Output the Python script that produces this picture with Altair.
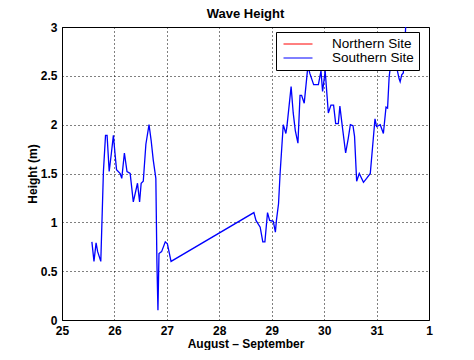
import altair as alt
import pandas as pd

days = [25.57, 25.61, 25.65, 25.68, 25.74, 25.79, 25.83, 25.86, 25.90, 25.94, 25.98,
        26.01, 26.04, 26.11, 26.14, 26.19, 26.24, 26.30, 26.36, 26.44, 26.48, 26.51,
        26.55, 26.60, 26.66, 26.70, 26.74, 26.79, 26.81, 26.83, 26.85, 26.90, 26.97,
        27.01, 27.08,
        28.66, 28.70, 28.78, 28.83, 28.87, 28.92, 28.96, 29.03, 29.07, 29.09, 29.13,
        29.16, 29.22, 29.27, 29.29, 29.37, 29.41, 29.45, 29.50, 29.54, 29.57, 29.62,
        29.69, 29.73, 29.80, 29.89, 29.94, 29.97, 30.02, 30.08, 30.13, 30.18, 30.22,
        30.27, 30.30, 30.34, 30.41, 30.46, 30.50, 30.55, 30.58, 30.62, 30.67, 30.75,
        30.81, 30.88, 30.97, 31.00, 31.07, 31.13, 31.18, 31.21, 31.24, 31.30, 31.37,
        31.43, 31.45, 31.48, 31.51, 31.56]
heights = [0.80, 0.60, 0.79, 0.70, 0.60, 1.52, 1.89, 1.89, 1.52, 1.70, 1.89,
           1.71, 1.54, 1.50, 1.45, 1.71, 1.52, 1.50, 1.21, 1.40, 1.21, 1.40,
           1.42, 1.80, 2.00, 1.84, 1.64, 1.45, 0.60, 0.10, 0.68, 0.70, 0.80,
           0.78, 0.60,
           1.10, 1.02, 0.95, 0.80, 0.80, 1.10, 1.02, 1.01, 0.90, 1.02, 1.19,
           1.50, 2.00, 1.91, 1.98, 2.39, 2.12, 1.94, 1.81, 2.30, 2.30, 2.22,
           2.60, 2.52, 2.41, 2.41, 2.55, 2.34, 2.55, 2.12, 2.20, 2.20, 2.01,
           2.01, 2.19, 2.01, 1.71, 1.86, 2.00, 1.99, 1.88, 1.42, 1.50, 1.41,
           1.45, 1.50, 2.06, 1.98, 2.00, 1.91, 2.18, 2.17, 2.49, 2.75, 2.62,
           2.47, 2.44, 2.51, 2.53, 3.05]
sites = ["Northern Site", "Southern Site"]
site_colors = ["#ff0000", "#0000ff"]
x_ticks = [25, 26, 27, 28, 29, 30, 31, 32]
y_ticks = [0, 0.5, 1, 1.5, 2, 2.5, 3]

df = pd.DataFrame({"day": days, "height": heights,
                   "site": ["Southern Site"] * len(days)})

FONT = "Liberation Sans"

chart = alt.Chart(df).mark_line(clip=True, strokeWidth=1.3).encode(
    x=alt.X("day:Q",
            scale=alt.Scale(domain=[25, 32], nice=False, zero=False),
            axis=alt.Axis(values=x_ticks,
                          labelExpr="datum.value == 32 ? '1' : '' + datum.value",
                          title="August – September")),
    y=alt.Y("height:Q",
            scale=alt.Scale(domain=[0, 3], nice=False),
            axis=alt.Axis(values=y_ticks, labelExpr="'' + datum.value",
                          title="Height (m)")),
    color=alt.Color("site:N",
                    scale=alt.Scale(domain=sites, range=site_colors),
                    legend=alt.Legend(title=None, orient="none",
                                      legendX=214, legendY=5,
                                      fillColor="white", strokeColor="black",
                                      padding=5, symbolType="M-0.69,0L3.77,0",
                                      symbolSize=169, symbolStrokeWidth=1,
                                      labelFont=FONT, labelFontSize=13.5,
                                      labelColor="black", labelOffset=37,
                                      labelExpr="datum.label + '\u00a0\u00a0\u00a0\u00a0\u00a0'",
                                      rowPadding=-1.5)),
).properties(
    width=367, height=293,
    title=alt.TitleParams("Wave Height", font=FONT, fontSize=13,
                          fontWeight="bold", color="black", offset=0),
    autosize="none",
    padding={"left": 54, "top": 19, "right": 30, "bottom": 30},
).configure_view(
    stroke="black", strokeWidth=1
).configure_axis(
    grid=True, gridColor="black", gridDash=[1, 3], gridOpacity=1, gridWidth=1,
    domain=False, ticks=False, labelFlush=False,
    labelFont=FONT, labelFontSize=12, labelFontWeight="bold", labelColor="black",
    labelPadding=5,
    titleFont=FONT, titleFontSize=12, titleFontWeight="bold", titleColor="black",
).configure_axisY(titlePadding=1).configure_axisX(titlePadding=2, labelPadding=5)

chart.save("out.html", embed_options={"renderer": "svg", "actions": False})
